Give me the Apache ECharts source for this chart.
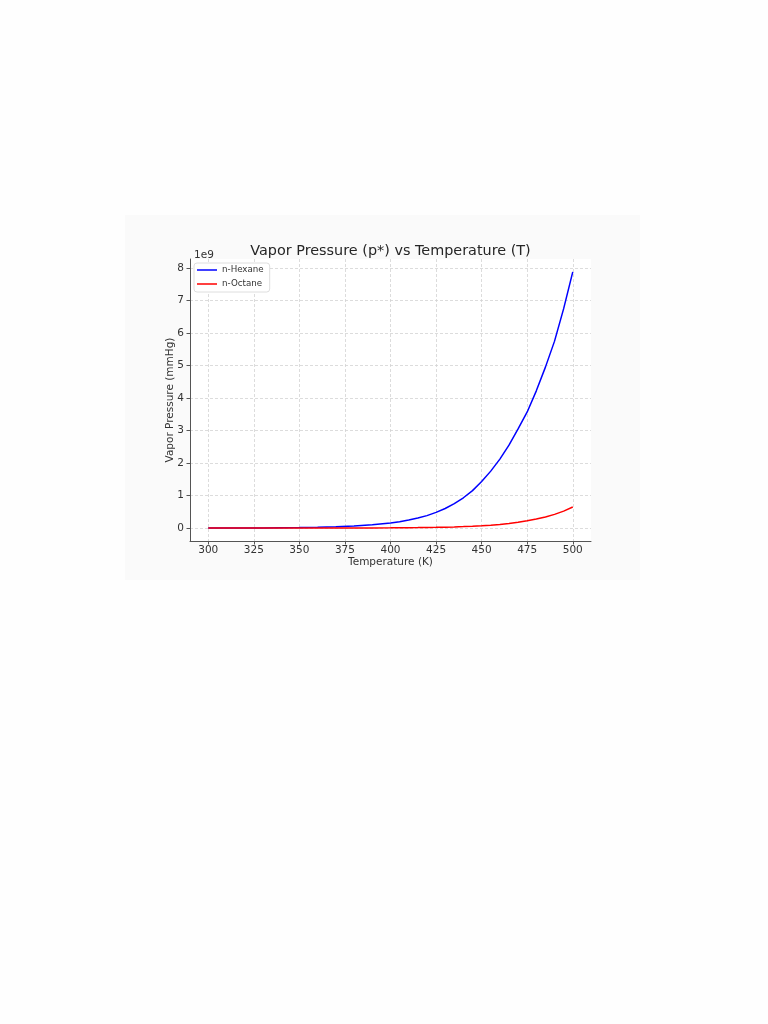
<!DOCTYPE html>
<html>
<head>
<meta charset="utf-8">
<script src="https://cdn.jsdelivr.net/npm/echarts@6/dist/echarts.min.js"></script>
<style>
  html, body { margin: 0; padding: 0; background: #fefefe; }
  #fig { position: absolute; left: 125px; top: 215px; width: 515px; height: 365px; background: #fafafa; }
  #chart { position: absolute; left: 0; top: 0; width: 768px; height: 1024px; }
</style>
</head>
<body>
<div id="fig"></div>
<div id="chart"></div>
<script>
// Temperatures (K)
const temperatures = [300, 310, 320, 330, 340, 350, 360, 370, 380, 390, 400,
  405, 410, 415, 420, 425, 430, 435, 440, 445, 450,
  455, 460, 465, 470, 475, 480, 485, 490, 495, 500];
// Vapor pressure, in units of 1e9 mmHg (as shown by the axis offset "1e9")
const hexane = [0.0004, 0.0009, 0.0018, 0.0035, 0.0065, 0.012, 0.021, 0.036, 0.060, 0.098, 0.155,
  0.195, 0.245, 0.305, 0.38, 0.48, 0.60, 0.75, 0.93, 1.15, 1.43,
  1.75, 2.12, 2.55, 3.05, 3.57, 4.22, 4.95, 5.75, 6.75, 7.88];
const octane = [0.000004, 0.00001, 0.00002, 0.00005, 0.0001, 0.00022, 0.00045, 0.0009, 0.0017, 0.003, 0.0055,
  0.0072, 0.0095, 0.0123, 0.016, 0.0205, 0.026, 0.034, 0.043, 0.055, 0.069,
  0.087, 0.11, 0.14, 0.175, 0.22, 0.274, 0.34, 0.42, 0.52, 0.646];
const xTicks = [300, 325, 350, 375, 400, 425, 450, 475, 500];
const yTicks = [0, 1, 2, 3, 4, 5, 6, 7, 8];
const seriesNames = ['n-Hexane', 'n-Octane'];
const titleText = 'Vapor Pressure (p*) vs Temperature (T)';
const xLabel = 'Temperature (K)';
const yLabel = 'Vapor Pressure (mmHg)';
const offsetText = '1e9';

const FONT = 'DejaVu Sans';
const chart = echarts.init(document.getElementById('chart'), null, { renderer: 'canvas' });

const gridLine = { show: true, lineStyle: { color: '#d3d3d3', width: 0.8, type: [3, 2] } };

chart.setOption({
  backgroundColor: 'transparent',
  animation: false,
  textStyle: { fontFamily: FONT },
  title: {
    text: titleText,
    left: 385.5, top: 239, textAlign: 'center',
    textStyle: { fontFamily: FONT, fontSize: 14.4, fontWeight: 'normal', color: '#262626' }
  },
  legend: {
    orient: 'vertical',
    left: 194, top: 263,
    data: seriesNames,
    icon: 'rect',
    itemWidth: 20, itemHeight: 1.5,
    itemGap: 4,
    padding: [2, 6, 3, 3],
    backgroundColor: '#ffffff',
    borderColor: '#d6d6d6', borderWidth: 0.8, borderRadius: 3,
    textStyle: { fontFamily: FONT, fontSize: 8.7, color: '#333', lineHeight: 10 }
  },
  grid: {
    left: 190, top: 259, width: 401, height: 282,
    show: true, backgroundColor: '#ffffff', borderWidth: 0
  },
  xAxis: {
    type: 'value', min: 290, max: 510,
    name: xLabel, nameLocation: 'middle', nameGap: 16,
    nameTextStyle: { fontFamily: FONT, fontSize: 10.5, color: '#333' },
    axisLine: { show: true, onZero: false, lineStyle: { color: '#555', width: 1 } },
    axisTick: { show: true, length: 3.5, inside: false, customValues: xTicks, lineStyle: { color: '#555' } },
    axisLabel: { customValues: xTicks, margin: 4, fontFamily: FONT, fontSize: 10.5, color: '#333' },
    splitLine: gridLine
  },
  yAxis: {
    type: 'value', min: -0.4, max: 8.277,
    name: offsetText, nameLocation: 'end', nameGap: -2,
    nameTextStyle: { fontFamily: FONT, fontSize: 10.5, color: '#333', align: 'left', padding: [0, 0, 0, 4] },
    axisLine: { show: true, onZero: false, lineStyle: { color: '#555', width: 1 } },
    axisTick: { show: true, length: 3.5, inside: false, customValues: yTicks, lineStyle: { color: '#555' } },
    axisLabel: { customValues: yTicks, margin: 6, fontFamily: FONT, fontSize: 10.5, color: '#333' },
    splitLine: gridLine
  },
  series: [
    {
      name: seriesNames[0], type: 'line', showSymbol: false, symbol: 'none',
      color: '#0000ff', lineStyle: { color: '#0000ff', width: 1.5 },
      data: temperatures.map((t, i) => [t, hexane[i]])
    },
    {
      name: seriesNames[1], type: 'line', showSymbol: false, symbol: 'none',
      color: '#ff0000', lineStyle: { color: '#ff0000', width: 1.5 },
      data: temperatures.map((t, i) => [t, octane[i]])
    }
  ]
});

// Rotated y-axis title, anchored at the grid's vertical centre via the axis scale
const mid = chart.convertToPixel({ gridIndex: 0 }, [290, (-0.4 + 8.277) / 2]);
chart.setOption({
  graphic: [{
    type: 'text', x: mid[0] - 20, y: mid[1], rotation: Math.PI / 2,
    style: { text: yLabel, fontFamily: FONT, fontSize: 10.5, fill: '#333', align: 'center', verticalAlign: 'middle' }
  }]
});
</script>
</body>
</html>
